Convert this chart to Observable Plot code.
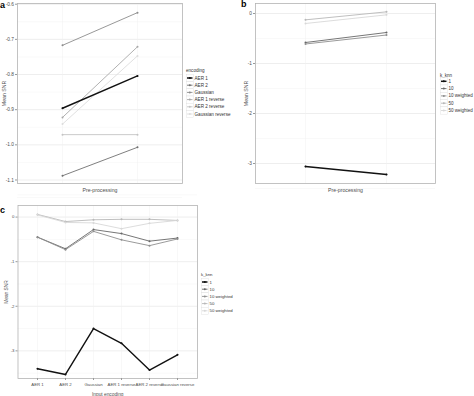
<!DOCTYPE html>
<html><head><meta charset="utf-8">
<script src="https://cdn.jsdelivr.net/npm/d3@7"></script>
<script src="https://cdn.jsdelivr.net/npm/@observablehq/plot@0.6"></script>
<style>
body{margin:0;background:#fff;font-family:"Liberation Sans",Arial,sans-serif;}
#root{position:relative;width:474px;height:396px;overflow:hidden;background:#fff;}
.panel{position:absolute;}
.tag{position:absolute;font-weight:bold;font-size:9px;line-height:1;color:#000;}
.legend{position:absolute;overflow:visible;}
</style></head><body><div id="root"></div>
<script>
// ---- data ----
const encodings = ["AER 1", "AER 2", "Gaussian", "AER 1 reverse", "AER 2 reverse", "Gaussian reverse"];
const preprocessing = ["without", "with"];
// panel a: mean SNR per encoding, without / with pre-processing
const snrA_without = [-0.896, -1.088, -0.717, -0.922, -0.971, -0.941];
const snrA_with    = [-0.804, -1.007, -0.624, -0.721, -0.971, -0.747];
// panel b: mean SNR per k_knn, without / with pre-processing
const kKnn = ["1", "10", "10 weighted", "50", "50 weighted"];
const snrB_without = [-3.06, -0.58, -0.61, -0.127, -0.20];
const snrB_with    = [-3.22, -0.38, -0.43, 0.033, -0.027];
// panel c: mean SNR per input encoding, one series per k_knn
const snrC_k1   = [-3.40, -3.53, -2.50, -2.83, -3.43, -3.09];
const snrC_k10  = [-0.45, -0.71, -0.28, -0.37, -0.54, -0.47];
const snrC_k10w = [-0.45, -0.73, -0.32, -0.51, -0.64, -0.49];
const snrC_k50  = [0.06, -0.10, -0.06, -0.05, -0.05, -0.075];
const snrC_k50w = [0.05, -0.12, -0.13, -0.26, -0.14, -0.075];
// tick labels
const ticksA = [-1.1, -1.0, -0.9, -0.8, -0.7, -0.6];
const ticksK = [-3, -2, -1, 0];

// ---- styling ----
const greyA = ["#111111", "#707070", "#8c8c8c", "#a8a8a8", "#c4c4c4", "#dddddd"];
const greyK = ["#111111", "#666666", "#8f8f8f", "#b8b8b8", "#d8d8d8"];
const FONT = "'Liberation Sans', Arial, sans-serif";
const root = document.getElementById("root");

const dataA = encodings.flatMap((e, i) => [
  {series: e, x: preprocessing[0], y: snrA_without[i]},
  {series: e, x: preprocessing[1], y: snrA_with[i]}]);
const dataB = kKnn.flatMap((k, i) => [
  {series: k, x: preprocessing[0], y: snrB_without[i]},
  {series: k, x: preprocessing[1], y: snrB_with[i]}]);
const seriesC = [snrC_k1, snrC_k10, snrC_k10w, snrC_k50, snrC_k50w];
const dataC = kKnn.flatMap((k, j) => encodings.map((e, i) => ({series: k, x: e, y: seriesC[j][i]})));

const fmt1 = d => (d < 0 ? "-" : "") + Math.abs(d).toFixed(1);
const fmt0 = d => (d < 0 ? "-" : "") + Math.abs(d).toFixed(0);

function minorOf(ticks) {
  const step = ticks[1] - ticks[0];
  const out = [];
  for (let i = -1; i < ticks.length; i++) out.push(+(ticks[0] + (i + 0.5) * step).toFixed(4));
  return out;
}

function drawPanel(o) {
  const thick = o.series[0];
  const p = Plot.plot({
    width: o.width, height: o.height,
    marginLeft: o.mL, marginRight: o.mR, marginTop: o.mT, marginBottom: o.mB,
    style: {fontFamily: FONT, fontSize: "5px", color: "#4d4d4d", background: "transparent", overflow: "visible"},
    x: {type: "point", domain: o.xDomain, padding: 0.6, axis: null},
    y: {domain: o.yDomain, axis: null},
    color: {domain: o.series, range: o.colors},
    marks: [
      Plot.gridY({ticks: minorOf(o.yTicks), stroke: "#f3f3f3", strokeOpacity: 1, strokeWidth: 0.5}),
      Plot.gridY({ticks: o.yTicks, stroke: "#e6e6e6", strokeOpacity: 1, strokeWidth: 0.7}),
      Plot.gridX({stroke: "#f1f1f1", strokeOpacity: 1, strokeWidth: 0.5}),
      Plot.line(o.data.filter(d => d.series !== thick), {x: "x", y: "y", z: "series", stroke: "series", strokeWidth: 0.9}),
      Plot.line(o.data.filter(d => d.series === thick), {x: "x", y: "y", z: "series", stroke: "series", strokeWidth: 1.4}),
      Plot.dot(o.data, {x: "x", y: "y", fill: "series", r: 1}),
      Plot.frame({stroke: "#b3b3b3", strokeWidth: 0.8}),
      Plot.axisY({ticks: o.yTicks, tickSize: 2, tickPadding: 1.5, tickFormat: o.fmt, stroke: "#999",
        label: null, fontSize: o.tickFont}),
      Plot.axisY({ticks: [], tickSize: 0, label: "Mean SNR", labelAnchor: "center", labelArrow: "none",
        labelOffset: o.yLabelOffset, fontSize: o.labelFont}),
      Plot.axisX({tickSize: o.showXTicks ? 2 : 0, tickPadding: 2, stroke: "#999",
        tickFormat: o.showXTicks ? (d => d) : (() => ""), label: null, fontSize: o.tickFont}),
      Plot.axisX({ticks: [], tickSize: 0, label: o.xLabel, labelAnchor: "center", labelArrow: "none",
        labelOffset: o.xLabelOffset, fontSize: o.labelFont})
    ]
  });
  p.classList.add("panel");
  p.style.left = o.left + "px";
  p.style.top = o.top + "px";
  root.appendChild(p);
}

function drawLegend(o) {
  const svg = d3.select(root).append("svg").attr("class", "legend")
    .style("left", o.left + "px").style("top", o.top + "px")
    .attr("width", 70).attr("height", 60)
    .style("font-family", FONT).style("font-size", o.font + "px");
  svg.append("text").attr("x", 0).attr("y", o.titleY).attr("dominant-baseline", "central")
    .attr("fill", "#333").text(o.title);
  o.series.forEach((s, i) => {
    const cy = o.rowY + i * o.rowH;
    const g = svg.append("g");
    g.append("rect").attr("x", 0.3).attr("y", cy - o.rowH / 2).attr("width", o.keyW).attr("height", o.rowH)
      .attr("fill", "#fff").attr("stroke", "#dcdcdc").attr("stroke-width", 0.4);
    g.append("line").attr("x1", 1).attr("x2", o.keyW - 0.5).attr("y1", cy).attr("y2", cy)
      .attr("stroke", o.colors[i]).attr("stroke-width", i === 0 ? 1.5 : 0.9);
    g.append("circle").attr("cx", o.keyW / 2 + 0.3).attr("cy", cy).attr("r", 1).attr("fill", o.colors[i]);
    g.append("text").attr("x", o.keyW + 1.5).attr("y", cy).attr("dominant-baseline", "central")
      .attr("fill", "#333").text(s);
  });
}

function tag(t, x, y) {
  const d = document.createElement("div");
  d.className = "tag"; d.textContent = t;
  d.style.left = x + "px"; d.style.top = y + "px";
  root.appendChild(d);
}

// panel a
drawPanel({data: dataA, series: encodings, colors: greyA, xDomain: preprocessing,
  yDomain: [-1.11, -0.598], yTicks: ticksA, fmt: fmt1, tickFont: 4.8, labelFont: 5.2,
  left: 0, top: 0, width: 186, height: 196, mL: 17, mR: 4, mT: 3, mB: 13,
  xLabel: "Pre-processing", showXTicks: false, yLabelOffset: 15, xLabelOffset: 8});
drawLegend({left: 186, top: 0, title: "encoding", titleY: 70.7, rowY: 78, rowH: 7.2, keyW: 7, font: 4.6,
  series: encodings, colors: greyA});

// panel b
drawPanel({data: dataB, series: kKnn, colors: greyK, xDomain: preprocessing,
  yDomain: [-3.4, 0.2], yTicks: ticksK, fmt: fmt0, tickFont: 4.8, labelFont: 5.2,
  left: 230, top: 0, width: 210, height: 196, mL: 25, mR: 5, mT: 3, mB: 13,
  xLabel: "Pre-processing", showXTicks: false, yLabelOffset: 11, xLabelOffset: 8});
drawLegend({left: 440, top: 0, title: "k_knn", titleY: 75, rowY: 81.3, rowH: 7.3, keyW: 7, font: 4.5,
  series: kKnn, colors: greyK});

// panel c
drawPanel({data: dataC, series: kKnn, colors: greyK, xDomain: encodings,
  yDomain: [-3.62, 0.26], yTicks: ticksK, fmt: fmt0, tickFont: 4.3, labelFont: 4.8,
  left: 0, top: 195, width: 200, height: 201, mL: 17.5, mR: 3, mT: 10, mB: 18,
  xLabel: "Input encoding", showXTicks: true, yLabelOffset: 13, xLabelOffset: 17});
drawLegend({left: 201, top: 195, title: "k_knn", titleY: 79, rowY: 87, rowH: 7.2, keyW: 7, font: 4.3,
  series: kKnn, colors: greyK});

tag("a", 0, 1);
tag("b", 241, 0);
tag("c", 0, 206);
</script></body></html>
